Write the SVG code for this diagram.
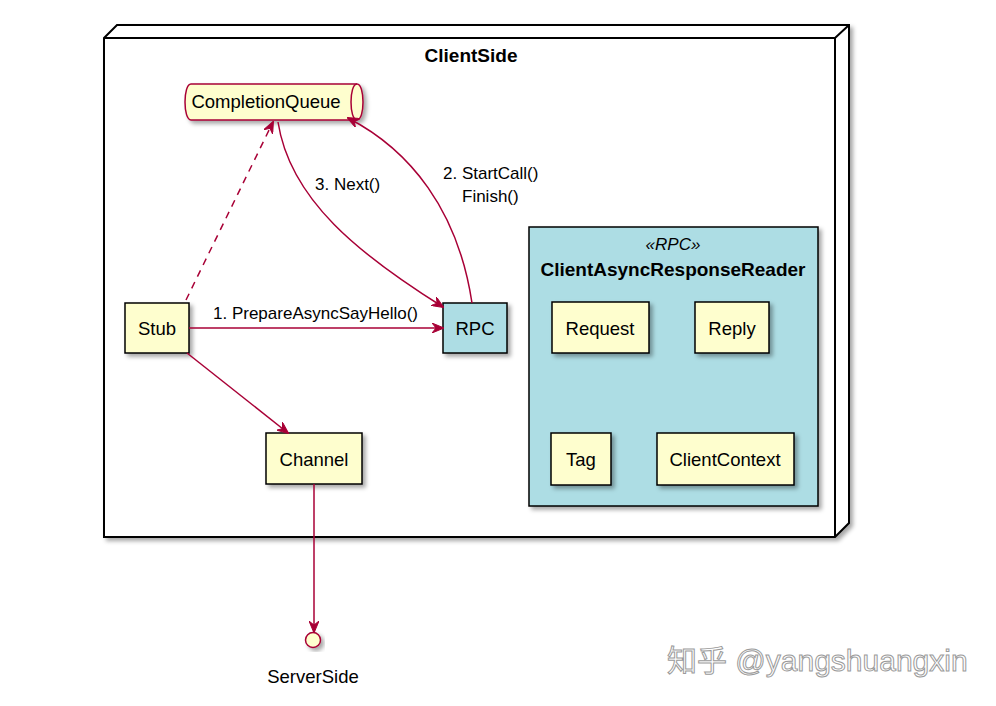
<svg xmlns="http://www.w3.org/2000/svg" width="996" height="706" viewBox="0 0 996 706">
<defs>
<filter id="sh" x="-20%" y="-20%" width="150%" height="150%">
<feDropShadow dx="3" dy="3" stdDeviation="2" flood-color="#000" flood-opacity="0.35"/>
</filter>
<marker id="ah" viewBox="0 0 12 10" refX="11" refY="5" markerWidth="12" markerHeight="10" markerUnits="userSpaceOnUse" orient="auto">
<path d="M0,0 L12,5 L0,10 L4,5 Z" fill="#A80036" stroke="#A80036" stroke-width="1"/>
</marker>
</defs>
<style>
text{font-family:"Liberation Sans",Arial,sans-serif;fill:#000}
.n{font-size:18.5px;text-anchor:middle}
.l{font-size:17px}
.b{font-weight:bold;font-size:19px;text-anchor:middle}
.box{fill:#FEFECE;stroke:#000;stroke-width:1.5;filter:url(#sh)}
.blue{fill:#ADDDE4;stroke:#000;stroke-width:1.5;filter:url(#sh)}
.e{fill:none;stroke:#A80036;stroke-width:1.5}
</style>
<rect width="996" height="706" fill="#fff"/>

<g id="ClientSide">
<path d="M104,38 L117,25 L849,25 L849,523 L835,537 L104,537 Z" fill="#fff" stroke="#000" stroke-width="2" filter="url(#sh)"/>
<path d="M104,38 L835,38 L849,25 M835,38 L835,537" fill="none" stroke="#000" stroke-width="2"/>
<text class="b" x="471" y="62">ClientSide</text>
</g>

<g id="CompletionQueue">
<path d="M191,84 H357 C365,84 365,120 357,120 H191 C183,120 183,84 191,84 Z" fill="#FEFECE" stroke="#A80036" stroke-width="1.5" filter="url(#sh)"/>
<path d="M357,84 C349,84 349,120 357,120" fill="none" stroke="#A80036" stroke-width="1.5"/>
<text class="n" x="266" y="108">CompletionQueue</text>
</g>

<g id="ClientAsyncResponseReader">
<rect class="blue" x="529" y="227" width="289" height="279"/>
<text x="673" y="250" font-size="17" font-style="italic" text-anchor="middle">«RPC»</text>
<text class="b" x="673" y="276">ClientAsyncResponseReader</text>
</g>

<g id="Stub">
<rect class="box" x="125" y="303" width="64" height="50"/>
<text class="n" x="157" y="335">Stub</text>
</g>

<g id="RPC">
<rect class="blue" x="443" y="303" width="64" height="50"/>
<text class="n" x="475" y="335">RPC</text>
</g>

<g id="Channel">
<rect class="box" x="266" y="433" width="96" height="51"/>
<text class="n" x="314" y="466">Channel</text>
</g>

<g id="Request">
<rect class="box" x="552" y="302" width="97" height="51"/>
<text class="n" x="600" y="335">Request</text>
</g>

<g id="Reply">
<rect class="box" x="695" y="302" width="74" height="51"/>
<text class="n" x="732" y="335">Reply</text>
</g>

<g id="Tag">
<rect class="box" x="551" y="433" width="60" height="52"/>
<text class="n" x="581" y="466">Tag</text>
</g>

<g id="ClientContext">
<rect class="box" x="657" y="433" width="137" height="52"/>
<text class="n" x="725" y="466">ClientContext</text>
</g>

<g id="ServerSide">
<circle cx="313" cy="640" r="7.5" fill="#FEFECE" stroke="#A80036" stroke-width="1.5" filter="url(#sh)"/>
<text class="n" x="313" y="683">ServerSide</text>
</g>

<g id="connectors">
<path class="e" d="M186,300 L273,122" stroke-dasharray="7,6" marker-end="url(#ah)"/>
<path class="e" d="M278,122 C290,200 360,255 443,307" marker-end="url(#ah)"/>
<path class="e" d="M472,303 C458,210 410,150 348,118" marker-end="url(#ah)"/>
<path class="e" d="M189,328 L443,328" marker-end="url(#ah)"/>
<path class="e" d="M187,353 L288,433" marker-end="url(#ah)"/>
<path class="e" d="M314,484 L314,632" marker-end="url(#ah)"/>
<text class="l" x="315" y="190">3. Next()</text>
<text class="l" x="443" y="179">2. StartCall()</text>
<text class="l" x="462" y="202">Finish()</text>
<text class="l" x="213" y="319">1. PrepareAsyncSayHello()</text>
</g>

<text x="667" y="671" font-size="30" fill="#fff" stroke="#9a9a9a" stroke-width="1" style="font-family:'Liberation Sans','Noto Sans CJK SC',sans-serif;fill:#fff">知乎 @yangshuangxin</text>
</svg>
